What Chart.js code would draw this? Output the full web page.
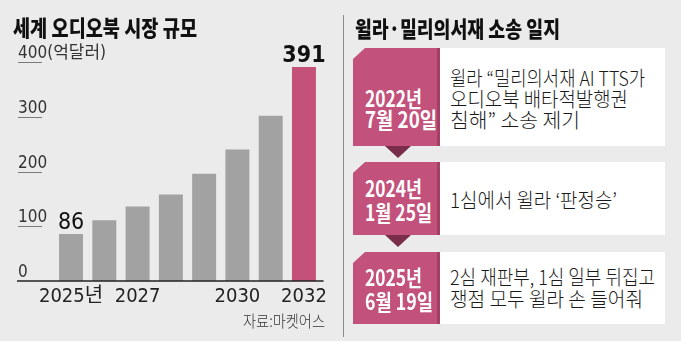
<!DOCTYPE html>
<html>
<head>
<meta charset="utf-8">
<script src="https://cdn.jsdelivr.net/npm/chart.js@4.4.1/dist/chart.umd.min.js"></script>
<style>
  body { margin: 0; width: 681px; height: 351px; background: #fff; overflow: hidden; font-family: "Noto Sans CJK KR", sans-serif; }
  #panel { position: absolute; left: 0; top: 0; width: 681px; height: 341px; background: #ebebeb; }
  #chartBox { position: absolute; left: 0; top: 0; width: 340px; height: 341px; }
  .t { position: absolute; white-space: nowrap; transform-origin: 0 50%; line-height: 1; }
  .title { font-weight: 900; font-size: 22px; color: #111; }
  #divider { position: absolute; left: 343px; top: 15px; width: 1px; height: 322px; background: #8a8a8a; }
  .card { position: absolute; left: 440px; width: 225px; background: #fff; }
  .tag { position: absolute; left: 353px; width: 87px; background: #c2527c;
         clip-path: polygon(12px 0, 100% 0, 100% 100%, 0 100%, 0 11px); }
  .tag::after { content: ""; position: absolute; right: 0; top: 0; width: 3px; height: 100%; background: #a43f67; }
  .arrow { position: absolute; left: 385px; width: 0; height: 0; border-left: 13px solid transparent;
           border-right: 13px solid transparent; border-top: 12px solid #7a2d4b; }
  .date { color: #fff; font-weight: 700; font-size: 22px; }
  .desc { color: #1a1a1a; font-size: 20px; font-weight: 300; }
  .src { font-size: 16px; color: #333; font-weight: 300; }
</style>
</head>
<body>
<div id="panel"></div>
<div id="chartBox"><canvas id="myChart" width="340" height="341"></canvas></div>
<div id="divider"></div>
<div id="overlay"></div>
<script>
// bar chart data
const years = ["2025", "2026", "2027", "2028", "2029", "2030", "2031", "2032"];
const yearLabels = ["2025년", "", "2027", "", "", "2030", "", "2032"];
const marketSize = [86, 111, 136, 158, 196, 240, 302, 391];
const yTicks = [0, 100, 200, 300, 400];
const labelledBars = [0, 7];

// timeline text
const tagLines = [["2022년", "7월 20일"], ["2024년", "1월 25일"], ["2025년", "6월 19일"]];
const descLines = [
  ["윌라 “밀리의서재 AI TTS가", "오디오북 배타적발행권", "침해” 소송 제기"],
  ["1심에서 윌라 ‘판정승’"],
  ["2심 재판부, 1심 일부 뒤집고", "쟁점 모두 윌라 손 들어줘"]
];

const NARROW = '"Liberation Sans Narrow", "DejaVu Sans Condensed", "Noto Sans CJK KR", sans-serif';
const GRAY = "#a2a2a2";
const PINK = "#c4517a";
const last = marketSize.length - 1;

// extra drawing: y labels with short underlines, base line, value labels
const extras = {
  id: "extras",
  afterDatasetsDraw(chart) {
    const ctx = chart.ctx;
    const y = chart.scales.y;
    ctx.save();
    ctx.font = "17px " + NARROW;
    ctx.fillStyle = "#333";
    ctx.textAlign = "left";
    ctx.textBaseline = "alphabetic";
    ctx.strokeStyle = "#7a7a7a";
    ctx.lineWidth = 1;
    yTicks.forEach(v => {
      const py = Math.round(y.getPixelForValue(v)) + 0.5;
      ctx.fillText(v === 400 ? "400(억달러)" : String(v), 18, py - 5);
      if (v === 0) return;
      ctx.beginPath();
      ctx.moveTo(18, py);
      ctx.lineTo(42, py);
      ctx.stroke();
    });
    const by = y.getPixelForValue(0);
    ctx.strokeStyle = "#222";
    ctx.lineWidth = 1.5;
    ctx.beginPath();
    ctx.moveTo(17, by);
    ctx.lineTo(chart.chartArea.right + 3, by);
    ctx.stroke();

    const meta = chart.getDatasetMeta(0);
    ctx.fillStyle = "#111";
    ctx.textAlign = "center";
    labelledBars.forEach(i => {
      const bar = meta.data[i];
      ctx.font = (i === last ? "bold " : "") + "23px " + NARROW;
      ctx.fillText(String(marketSize[i]), bar.x, bar.y - 5);
    });
    ctx.restore();
  }
};

new Chart(document.getElementById("myChart").getContext("2d"), {
  type: "bar",
  data: {
    labels: years,
    datasets: [{
      data: marketSize,
      backgroundColor: c => c.dataIndex === last ? PINK : GRAY,
      barPercentage: 0.72,
      categoryPercentage: 1
    }]
  },
  options: {
    responsive: false,
    animation: false,
    devicePixelRatio: 1,
    layout: { padding: { left: 17, right: 19.4, top: 62, bottom: 0 } },
    plugins: { legend: { display: false }, tooltip: { enabled: false } },
    scales: {
      x: {
        grid: { display: false, drawTicks: false },
        border: { display: false },
        ticks: {
          autoSkip: false, maxRotation: 0, padding: 4, color: "#222",
          font: { family: NARROW, size: 20 },
          callback: (v, i) => yearLabels[i]
        },
        afterFit: s => { s.height = 60; s.paddingLeft = 0; s.paddingRight = 0; }
      },
      y: {
        min: 0, max: 400,
        afterBuildTicks: s => { s.ticks = yTicks.map(v => ({ value: v })); },
        grid: { display: false, drawTicks: false },
        border: { display: false },
        ticks: { display: false },
        afterFit: s => { s.width = 37.4; s.paddingTop = 0; s.paddingBottom = 0; }
      }
    }
  },
  plugins: [extras]
});

// HTML parts
const ov = document.getElementById("overlay");
function addText(cls, txt, x, cy, size, w) {
  const d = document.createElement("div");
  d.className = "t " + cls;
  d.textContent = txt;
  d.style.left = x + "px";
  d.style.top = (cy - size / 2) + "px";
  d.style.fontSize = size + "px";
  d.dataset.w = w;
  ov.appendChild(d);
}
function addBox(cls, top, h) {
  const d = document.createElement("div");
  d.className = cls;
  d.style.top = top + "px";
  if (h) d.style.height = h + "px";
  ov.appendChild(d);
}

addText("title", "세계 오디오북 시장 규모", 13, 26, 22, 184);
addText("title", "윌라·밀리의서재 소송 일지", 355, 27, 22, 205);
addText("src", "자료:마켓어스", 243, 320, 16, 82);

const boxes = [[48, 146], [162, 235], [252, 324]];
const tagY = [[97, 118], [187, 211], [276, 300]];
const tagW = [[57, 72], [57, 67], [57, 68]];
const descY = [[78, 99, 120], [200], [277, 299]];
const descW = [[195, 178, 130], [167], [205, 193]];

boxes.forEach((b, i) => {
  addBox("card", b[0], b[1] - b[0]);
  addBox("tag", b[0], b[1] - b[0]);
  if (i < boxes.length - 1) addBox("arrow", b[1]);
  tagLines[i].forEach((s, j) => addText("date", s, 365, tagY[i][j], 22, tagW[i][j]));
  descLines[i].forEach((s, j) => addText("desc", s, 450, descY[i][j], 20, descW[i][j]));
});

function fitAll() {
  document.querySelectorAll("[data-w]").forEach(el => {
    el.style.transform = "none";
    const w = el.getBoundingClientRect().width;
    el.style.transform = "scaleX(" + (el.dataset.w / w) + ")";
  });
}
fitAll();
document.fonts.ready.then(fitAll);
</script>
</body>
</html>
